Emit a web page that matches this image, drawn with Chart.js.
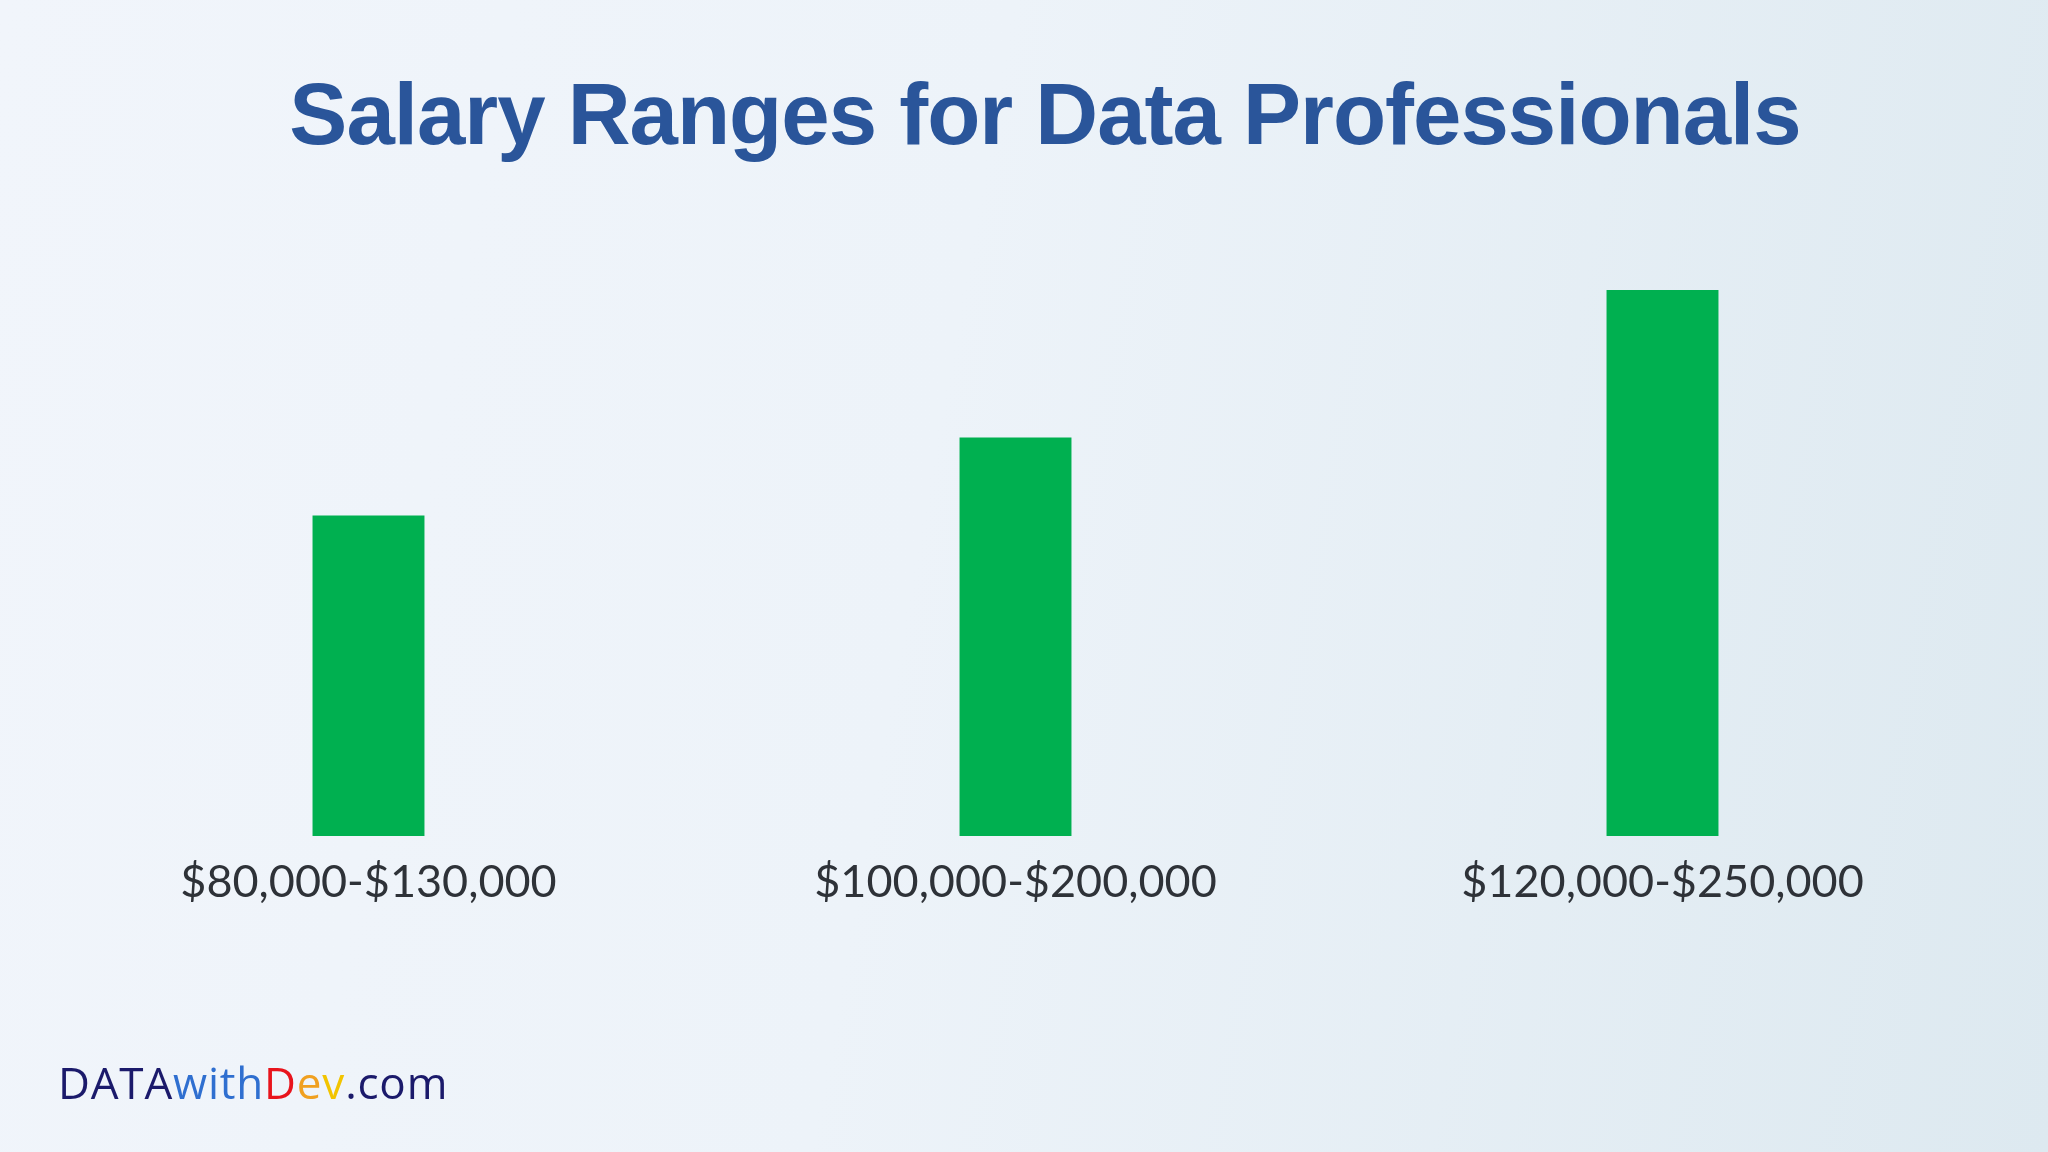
<!DOCTYPE html>
<html>
<head>
<meta charset="utf-8">
<script src="https://cdn.jsdelivr.net/npm/chart.js@4.4.1/dist/chart.umd.min.js"></script>
<style>
  html, body { margin:0; padding:0; width:2048px; height:1152px; overflow:hidden; }
  body { background: linear-gradient(100deg, #f1f5fb 0%, #edf3f9 45%, #dde9f0 100%); position:relative; }
  #wrap { position:absolute; left:0; top:0; width:2048px; height:1152px; }
  #title { position:absolute; left:1045px; top:70px; transform:translateX(-50%); margin:0;
           font-family:"Liberation Sans", Arial, sans-serif; font-weight:bold; font-size:87px; line-height:87px;
           letter-spacing:-1px; color:#2a559a; white-space:nowrap; }
  #logo { position:absolute; left:58px; top:1052px; font-family:"Open Sans", sans-serif; font-size:44px; letter-spacing:0.8px; white-space:nowrap; }
  #logo .a { color:#1b1a6b; }
  #logo .b { color:#2f6fd0; }
  #logo .c { color:#e8141c; }
  #logo .d { color:#f0a020; }
  #logo .e { color:#f2c400; }
</style>
</head>
<body>
<div id="wrap"><canvas id="c" width="2048" height="1152"></canvas></div>
<div id="title"></div>
<div id="logo"><span class="a">DATA</span><span class="b">with</span><span class="c">D</span><span class="d">e</span><span class="e">v</span><span class="a">.com</span></div>
<script>
const titleText = "Salary Ranges for Data Professionals";
const categories = ["$80,000-$130,000", "$100,000-$200,000", "$120,000-$250,000"];
// relative bar heights (tallest = 100)
const barValues = [58.7, 73.0, 100];

document.getElementById('title').textContent = titleText;

const ctx = document.getElementById('c');
new Chart(ctx, {
  type: 'bar',
  data: {
    labels: categories,
    datasets: [{
      data: barValues,
      backgroundColor: '#00b050',
      borderWidth: 0,
      categoryPercentage: 1.0,
      barPercentage: 0.173
    }]
  },
  options: {
    responsive: false,
    animation: false,
    devicePixelRatio: 1,
    layout: { padding: { left: 45, right: 62, top: 290, bottom: 224 } },
    plugins: {
      legend: { display: false },
      tooltip: { enabled: false },
      title: { display: false }
    },
    scales: {
      x: {
        grid: { display: false, drawTicks: false, tickLength: 0 },
        border: { display: false },
        ticks: {
          color: '#2e3238',
          font: { family: 'Lato, "Open Sans", sans-serif', size: 45, lineHeight: 1.2 },
          padding: 19,
          maxRotation: 0
        }
      },
      y: {
        display: false,
        min: 0,
        max: 100
      }
    }
  }
});
</script>
</body>
</html>
